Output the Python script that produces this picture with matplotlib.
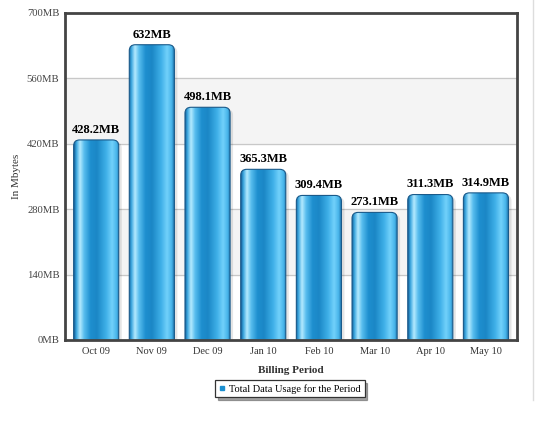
import matplotlib
matplotlib.use("Agg")
import matplotlib.pyplot as plt
import numpy as np
from matplotlib.patches import FancyBboxPatch
from matplotlib.colors import LinearSegmentedColormap
from matplotlib.lines import Line2D

months = ["Oct 09", "Nov 09", "Dec 09", "Jan 10", "Feb 10", "Mar 10", "Apr 10", "May 10"]
usage = [428.2, 632, 498.1, 365.3, 309.4, 273.1, 311.3, 314.9]
labels = ["428.2MB", "632MB", "498.1MB", "365.3MB", "309.4MB", "273.1MB", "311.3MB", "314.9MB"]
yticks = [0, 140, 280, 420, 560, 700]
ytick_labels = ["0MB", "140MB", "280MB", "420MB", "560MB", "700MB"]

plt.rcParams['font.family'] = ['Liberation Serif', 'DejaVu Serif']

fig = plt.figure(figsize=(5.37, 4.32), dpi=100)
ax = fig.add_axes([0.121, 0.213, 0.842, 0.757])

x = np.arange(len(months))
w = 0.81
ax.set_xlim(-0.56, len(months) - 0.44)
ax.set_ylim(0, 700)

# alternate bands + grid
for i in range(len(yticks) - 1):
    if i % 2 == 1:
        ax.axhspan(yticks[i], yticks[i + 1], color="#f4f4f4", zorder=0)
for t in yticks[1:-1]:
    ax.axhline(t, color="#c8c8c8", lw=0.9, zorder=0.5)

# gradient for cylinder look
cmap = LinearSegmentedColormap.from_list("cyl", [
    (0.0, "#15609a"), (0.05, "#3aa6de"), (0.13, "#b4eaff"), (0.22, "#58bdee"),
    (0.36, "#1e8fcf"), (0.5, "#1b87c6"), (0.7, "#3fb0e8"), (0.83, "#72d1fb"),
    (0.93, "#48b5ea"), (1.0, "#18689f")])
grad = np.linspace(0, 1, 256).reshape(1, -1)

bars = ax.bar(x, usage, width=w, color="none", edgecolor="none")
# data units per pixel to keep corners round
px_x = (ax.get_xlim()[1] - ax.get_xlim()[0]) / (0.842 * 537)
px_y = 700 / (0.757 * 432)
r = 6 * px_x
for b, lab in zip(bars, labels):
    x0, h, bw = b.get_x(), b.get_height(), b.get_width()
    shadow = FancyBboxPatch((x0 + 3 * px_x, -20), bw, h + 20 - 2 * px_y,
                            boxstyle="round,pad=0,rounding_size=%f" % r,
                            mutation_aspect=px_y / px_x, fc="#000000", alpha=0.1,
                            ec="none", zorder=1)
    ax.add_patch(shadow)
    patch = FancyBboxPatch((x0, -20), bw, h + 20,
                           boxstyle="round,pad=0,rounding_size=%f" % r,
                           mutation_aspect=px_y / px_x, fc="none",
                           ec="#1a5a8a", lw=0.8, zorder=3)
    ax.add_patch(patch)
    im = ax.imshow(grad, cmap=cmap, extent=[x0, x0 + bw, 0, h], aspect="auto",
                   zorder=2, interpolation="bilinear")
    im.set_clip_path(patch)
    ax.text(b.get_x() + bw / 2, h + 9, lab, ha="center", va="bottom",
            fontsize=9, fontweight="bold", color="black", zorder=4)

ax.set_xlim(-0.56, len(months) - 0.44)
ax.set_ylim(0, 700)
ax.set_aspect("auto")

ax.set_xticks(x)
ax.set_xticklabels(months, fontsize=7.5, color="#333333")
ax.set_yticks(yticks)
ax.set_yticklabels(ytick_labels, fontsize=7.7, color="#444444")
ax.tick_params(axis="both", length=0, pad=5)
ax.tick_params(axis="y", pad=4)

for s in ax.spines.values():
    s.set_color("#444444")
    s.set_linewidth(2)
    s.set_zorder(5)

ax.set_ylabel("In Mbytes", fontsize=8, color="#333333", labelpad=4)
ax.set_xlabel("Billing Period", fontsize=8, fontweight="bold", color="#333333", labelpad=7)

handle = Line2D([], [], marker="s", color="none", markerfacecolor="#1a8fd0",
                markeredgecolor="#1a8fd0", markersize=3.5)
leg = ax.legend([handle], ["Total Data Usage for the Period"], loc="center",
                bbox_to_anchor=(0.54, 0.1), bbox_transform=fig.transFigure,
                fontsize=7.5, frameon=True, fancybox=False, shadow=True,
                handlelength=0.6, handletextpad=0.4, borderpad=0.35)
leg.get_frame().set_edgecolor("#333333")
leg.get_frame().set_linewidth(0.9)

fig.add_artist(Line2D([533 / 537, 533 / 537], [1.0, 1 - 400 / 432],
                      transform=fig.transFigure, color="#dddddd", lw=1))

fig.savefig("out.png", dpi=100)
